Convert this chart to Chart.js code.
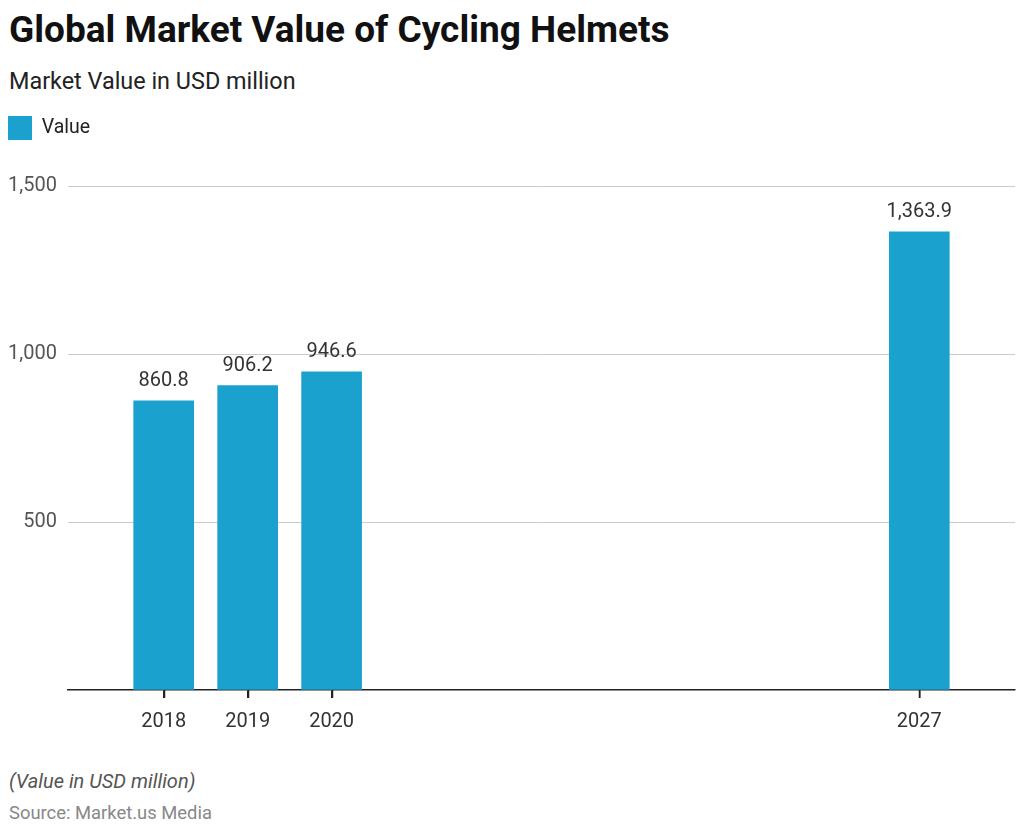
<!DOCTYPE html>
<html>
<head>
<meta charset="utf-8">
<script src="https://cdn.jsdelivr.net/npm/chart.js@4.4.0/dist/chart.umd.min.js"></script>
<style>
  html,body{margin:0;padding:0;background:#fff;font-family:Roboto,"Noto Sans",sans-serif;}
  #page{position:relative;width:1024px;height:833px;overflow:hidden;}
  #title{position:absolute;left:9px;top:8px;font-size:37px;font-weight:700;color:#111;white-space:nowrap;}
  #subtitle{position:absolute;left:9px;top:67px;font-size:23.4px;color:#222;white-space:nowrap;}
  #chartWrap{position:absolute;left:-2px;top:106px;width:1026px;height:640px;}
  #note{position:absolute;left:9px;top:769px;font-size:20px;font-style:italic;color:#555;white-space:nowrap;}
  #source{position:absolute;left:9px;top:802px;font-size:18.4px;color:#888;white-space:nowrap;}
</style>
</head>
<body>
<div id="page">
  <div id="title">Global Market Value of Cycling Helmets</div>
  <div id="subtitle">Market Value in USD million</div>
  <div id="chartWrap"><canvas id="c"></canvas></div>
  <div id="note">(Value in USD million)</div>
  <div id="source">Source: Market.us Media</div>
</div>
<script>
const years = [2018, 2019, 2020, 2027];
const values = [860.8, 906.2, 946.6, 1363.9];
const yTicks = [0, 500, 1000, 1500];
const seriesName = 'Value';

const fmt = v => v.toLocaleString('en-US', {minimumFractionDigits: 1, maximumFractionDigits: 1});

const valueLabels = {
  id: 'valueLabels',
  afterDatasetsDraw(chart) {
    const ctx = chart.ctx;
    const meta = chart.getDatasetMeta(0);
    ctx.save();
    ctx.font = '20px Roboto';
    ctx.fillStyle = '#333';
    ctx.textAlign = 'center';
    ctx.textBaseline = 'bottom';
    meta.data.forEach((bar, i) => {
      ctx.fillText(fmt(values[i]), bar.x, bar.y - 10);
    });
    ctx.restore();
  }
};

const xTickMarks = {
  id: 'xTickMarks',
  afterDraw(chart) {
    const ctx = chart.ctx;
    const xs = chart.scales.x;
    const bottom = chart.chartArea.bottom;
    ctx.save();
    ctx.strokeStyle = '#222';
    ctx.lineWidth = 1.5;
    xs.ticks.forEach(t => {
      const px = Math.round(xs.getPixelForValue(t.value)) + 0.5;
      ctx.beginPath();
      ctx.moveTo(px, bottom);
      ctx.lineTo(px, bottom + 8);
      ctx.stroke();
    });
    ctx.restore();
  }
};

const legendMargin = {
  id: 'legendMargin',
  beforeInit(chart) {
    const orig = chart.legend.fit;
    chart.legend.fit = function () {
      orig.bind(chart.legend)();
      this.height += 36;
    };
  }
};

new Chart(document.getElementById('c'), {
  type: 'bar',
  data: {
    datasets: [{
      label: seriesName,
      data: years.map((y, i) => ({x: y, y: values[i]})),
      backgroundColor: '#1aa1cd',
      borderColor: '#1597c2',
      borderWidth: 0,
      barThickness: 60
    }]
  },
  options: {
    responsive: true,
    maintainAspectRatio: false,
    animation: false,
    layout: {padding: {left: 0, right: 9, top: 0, bottom: 0}},
    plugins: {
      legend: {
        display: true,
        align: 'start',
        labels: {
          boxWidth: 24, boxHeight: 24, padding: 10,
          color: '#222', font: {family: 'Roboto', size: 19.5}
        }
      },
      title: {display: false},
      tooltip: {enabled: false}
    },
    scales: {
      x: {
        type: 'linear',
        offset: false,
        min: 2016.86,
        max: 2028.14,
        afterBuildTicks(axis) { axis.ticks = years.map(v => ({value: v})); },
        ticks: {
          callback: v => String(v),
          color: '#333',
          font: {family: 'Roboto', size: 20},
          padding: 12,
          maxRotation: 0,
          autoSkip: false
        },
        grid: {offset: false, drawOnChartArea: false, drawTicks: true, tickLength: 8, color: '#222', lineWidth: 1.5},
        border: {display: true, color: '#222', width: 1.5}
      },
      y: {
        min: 0,
        max: 1500,
        afterBuildTicks(axis) { axis.ticks = yTicks.map(v => ({value: v})); },
        afterFit(axis) { axis.width = 70; },
        ticks: {
          callback: v => v === 0 ? '' : v.toLocaleString('en-US'),
          color: '#555',
          font: {family: 'Roboto', size: 20},
          padding: 11
        },
        grid: {
          drawTicks: false,
          color: ctx => ctx.tick && ctx.tick.value === 0 ? 'rgba(0,0,0,0)' : '#cccccc',
          lineWidth: 1
        },
        border: {display: false}
      }
    }
  },
  plugins: [valueLabels, legendMargin, xTickMarks]
});
</script>
</body>
</html>
